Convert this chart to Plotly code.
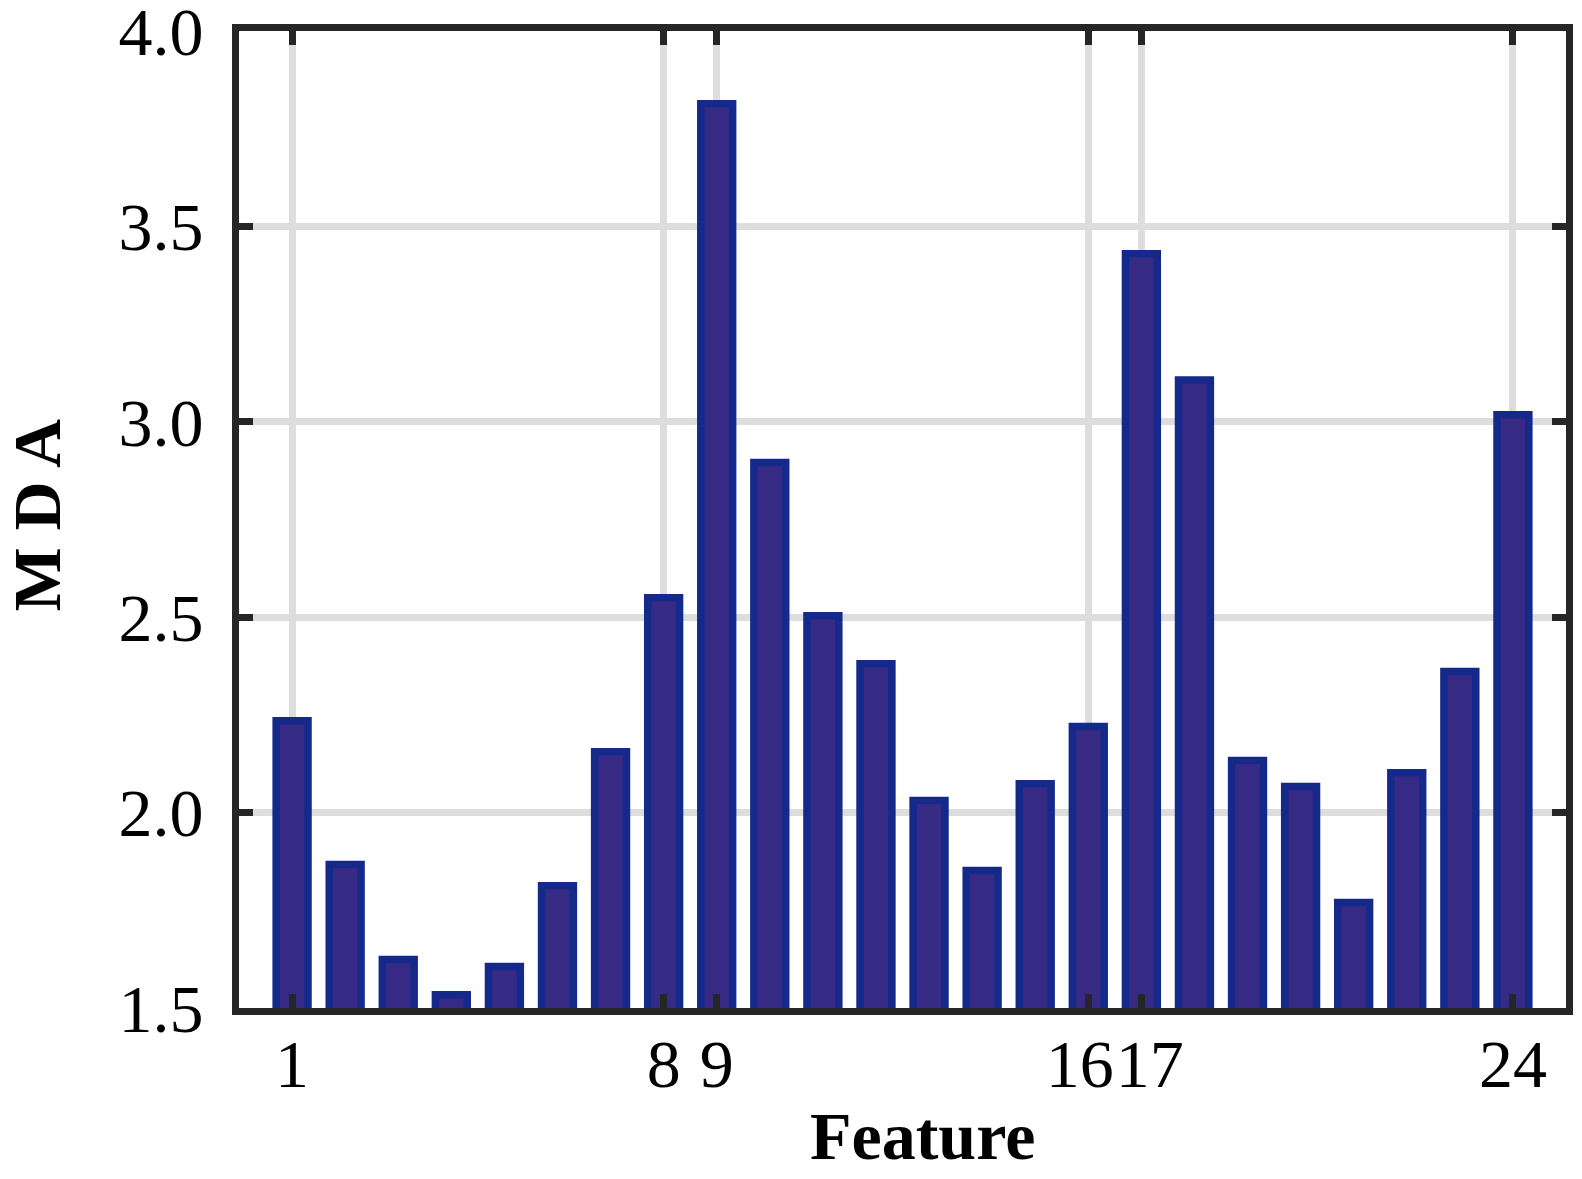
import plotly.graph_objects as go

features = list(range(1, 25))
mda = [2.235, 1.867, 1.624, 1.534, 1.606, 1.813, 2.156, 2.550,
       3.814, 2.896, 2.504, 2.381, 2.031, 1.852, 2.074, 2.220,
       3.430, 3.107, 2.133, 2.067, 1.770, 2.102, 2.361, 3.018]
x_ticks = [1, 8, 9, 16, 17, 24]
# padding with a no-break space keeps the tight "16 17" pair apart
x_tick_text = ["1", "8", "9", "16\u00a0", "\u00a017", "24"]
y_ticks = [1.5, 2.0, 2.5, 3.0, 3.5, 4.0]

font_family = "Liberation Serif, Times New Roman, serif"
frame = "#262626"

fig = go.Figure(
    go.Bar(
        x=features, y=mda, width=0.6,
        marker=dict(color="#372a85", line=dict(color="#15298b", width=7.5)),
    )
)

axis_common = dict(
    showline=True, linewidth=7, linecolor=frame, mirror="ticks",
    ticks="inside", ticklen=14, tickwidth=7, tickcolor=frame,
    showgrid=True, gridcolor="#dddddd", gridwidth=7, zeroline=False,
    tickfont=dict(family=font_family, size=68, color="black"),
    automargin=False, ticklabeloverflow="allow",
)

fig.update_layout(
    width=1582, height=1179,
    margin=dict(l=231, r=24, t=23, b=179),
    paper_bgcolor="white", plot_bgcolor="white",
    showlegend=False,
    xaxis=dict(axis_common, range=[0, 25], tickvals=x_ticks,
               ticktext=x_tick_text, tickangle=0, ticklabelstandoff=-10),
    yaxis=dict(axis_common, range=[1.5, 4.0], tickvals=y_ticks,
               tickformat=".1f", ticklabelstandoff=15),
    annotations=[
        dict(text="Feature", xref="paper", yref="paper", x=0.515, y=-0.1306,
             xanchor="center", yanchor="middle", showarrow=False,
             font=dict(family=font_family, size=68, color="black", weight="bold")),
        dict(text="M D A", xref="paper", yref="paper", x=-0.1522, y=0.504,
             xanchor="center", yanchor="middle", textangle=-90, showarrow=False,
             font=dict(family=font_family, size=68, color="black", weight="bold")),
    ],
)

fig.write_html("out.html")
